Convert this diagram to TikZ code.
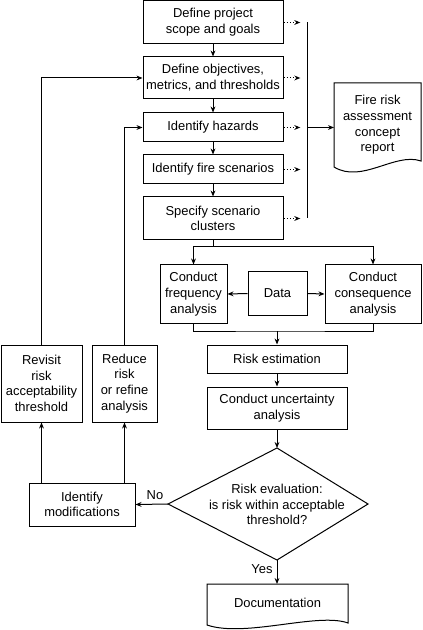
\documentclass[tikz,border=0pt]{standalone}
\usepackage{fontspec}
\setmainfont{Liberation Sans}
\usetikzlibrary{arrows.meta}
\begin{document}
\begin{tikzpicture}[x=0.75pt,y=-0.75pt,
  line width=0.75pt,
  font=\fontsize{9.7}{11.8}\selectfont,
  >={Stealth[length=4.5pt,width=3.6pt]},
  bx/.style={draw, align=center, inner sep=0pt},
  lbl/.style={inner sep=0pt, align=center},
  dots/.style={dash pattern=on 0.9pt off 1.5pt}]
\useasboundingbox (0,0) rectangle (422,630);
% main column
\node[bx, minimum width=105pt, minimum height=32.25pt] (b1) at (213,22.5) {Define project\\scope and goals};
\node[bx, minimum width=105pt, minimum height=31.5pt] (b2) at (213,78) {Define objectives,\\metrics, and thresholds};
\node[bx, minimum width=105pt, minimum height=21.75pt] (b3) at (213,127.5) {Identify hazards};
\node[bx, minimum width=105pt, minimum height=21.75pt] (b4) at (213,169.5) {Identify fire scenarios};
\node[bx, minimum width=105pt, minimum height=32.25pt] (b5) at (213,218.5) {Specify scenario\\clusters};
\node[bx, minimum width=50.25pt, minimum height=43.5pt] (freq) at (193.5,294) {Conduct\\frequency\\analysis};
\node[bx, minimum width=44.25pt, minimum height=32.25pt] (data) at (277.5,293.5) {Data};
\node[bx, minimum width=72pt, minimum height=43.5pt] (conseq) at (373,294) {Conduct\\consequence\\analysis};
\node[bx, minimum width=105pt, minimum height=21pt] (riskest) at (277,359) {Risk estimation};
\node[bx, minimum width=105pt, minimum height=31.5pt] (uncert) at (277,408) {Conduct uncertainty\\analysis};
% diamond
\coordinate (dT) at (277,448);
\coordinate (dL) at (168,504);
\coordinate (dR) at (368,504);
\coordinate (dB) at (277,560);
\draw (dT) -- (dR) -- (dB) -- (dL) -- cycle;
\node[lbl] (dtext) at (277,504.5) {Risk evaluation:\\is risk within acceptable\\threshold?};
% left side
\node[bx, minimum width=79.5pt, minimum height=32.25pt] (modif) at (82,504.5) {Identify\\modifications};
\node[bx, minimum width=60.75pt, minimum height=57.75pt] (revisit) at (41.5,383.5) {Revisit\\risk\\acceptability\\threshold};
\node[bx, minimum width=48.75pt, minimum height=57.75pt] (reduce) at (124.5,383.5) {Reduce\\risk\\or refine\\analysis};
% report document
\draw (334,83) -- (421,83) -- (421,161) .. controls (395,152) and (362,184) .. (334,167) -- cycle;
\node[lbl] (report) at (377.5,125) {Fire risk\\assessment\\concept\\report};
\coordinate (repW) at (334,127.5);
% documentation
\draw (207,584) -- (348,584) -- (348,623) .. controls (318,612) and (245,638) .. (207,625) -- cycle;
\node[lbl] (docu) at (277.5,603) {Documentation};
\coordinate (docN) at (277,584);
% main arrows
\draw[->] (b1) -- (b2);
\draw[->] (b2) -- (b3);
\draw[->] (b3) -- (b4);
\draw[->] (b4) -- (b5);
\coordinate (split) at (213,247);
\draw (b5.south) -- (split);
\draw[->] (split) -| (freq.north);
\draw[->] (split) -| (conseq.north);
\draw[->] (data.west) -- (freq.east);
\draw[->] (data.east) -- (conseq.west);
\coordinate (merge) at (277,331);
\draw (freq.south) |- (merge) -| (conseq.south);
\draw[->] (merge) -- (riskest.north);
\draw[->] (riskest) -- (uncert);
\draw[->] (uncert.south) -- (dT);
\draw[->] (dB) -- node[lbl, left=3pt, pos=0.4] (yes) {Yes} (docN);
\draw[->] (dL) -- node[lbl, above=3pt, pos=0.4] (no) {No} (modif.east);
\draw[->] (modif.north -| revisit) -- (revisit.south);
\draw[->] (modif.north -| reduce) -- (reduce.south);
\draw[->] (revisit.north) |- (b2.west);
\draw[->] (reduce.north) |- (b3.west);
% dotted arrows and bracket
\coordinate (brk) at (307,0);
\foreach \b in {b1,b2,b3,b4,b5}
  \draw[dots,->,shorten >=5pt] (\b.east) -- (\b.east -| brk);
\draw (b1.east -| brk) -- (b5.east -| brk);
\draw[->] (b3.east -| brk) -- (b3.east -| repW);
\end{tikzpicture}
\end{document}
